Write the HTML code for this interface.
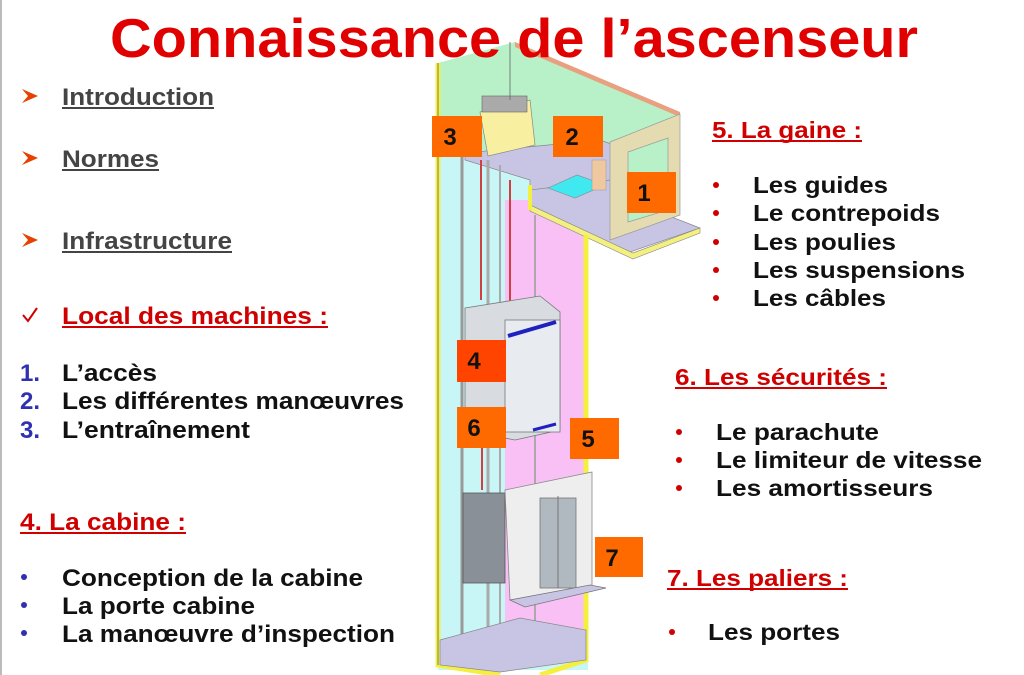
<!DOCTYPE html>
<html><head><meta charset="utf-8"><style>
html,body{margin:0;padding:0;background:#fff}
svg{display:block}
text{font-family:"Liberation Sans",Arial,sans-serif;font-weight:bold}
</style></head><body>
<svg width="1024" height="675" viewBox="0 0 1024 675" xmlns="http://www.w3.org/2000/svg">
<line x1="1" y1="0" x2="1" y2="675" stroke="#bbb" stroke-width="2"/>
<g>
<polygon points="438,63 515,42 680,114 680,215 438,215" fill="#b8f0c8"/>
<polygon points="515,42 680,112 680,117 515,47" fill="#e8a080"/>
<rect x="438" y="150" width="150" height="520" fill="#c8f6f6"/>
<rect x="505" y="200" width="80" height="460" fill="#f8c0f4"/>
<polygon points="530,185 585,200 585,660 530,640" fill="#f8c0f4"/>
<polygon points="465,153 600,140 628,150 628,235 610,240 530,205 530,180 465,160" fill="#c8c4e4" stroke="#888" stroke-width="0.7"/>
<polygon points="530,205 630,252 700,228 628,200 610,180 530,190" fill="#c8c4e4" stroke="#888" stroke-width="0.7"/>
<polygon points="530,205 633,253 700,228 700,233 633,259 530,211" fill="#f4f080" stroke="#888" stroke-width="0.6"/>
<polygon points="548,188 577,175 605,185 575,198" fill="#40e8f0" stroke="#888" stroke-width="0.6"/>
<polygon points="610,142 680,114 680,215 610,240" fill="#e4dcb0" stroke="#999" stroke-width="0.7"/>
<polygon points="628,152 668,138 668,210 628,222" fill="#b8f0c8" stroke="#999" stroke-width="0.7"/>
<rect x="592" y="160" width="14" height="30" fill="#f0c8a0" stroke="#999" stroke-width="0.5"/>
<polygon points="480,112 530,100 535,145 488,156" fill="#f8f0a0" stroke="#888" stroke-width="0.7"/>
<rect x="482" y="96" width="45" height="16" fill="#aaa" stroke="#666" stroke-width="0.6"/>
<line x1="510" y1="42" x2="510" y2="100" stroke="#666" stroke-width="0.8"/>
<path d="M438,63 L438,665 L500,675" fill="none" stroke="#f4f040" stroke-width="5"/>
<path d="M438,63 L438,665" fill="none" stroke="#777" stroke-width="1"/>
<path d="M586,235 L586,660 L540,675" fill="none" stroke="#f4f040" stroke-width="5"/>
<path d="M530,185 L530,210" fill="none" stroke="#f4f040" stroke-width="4"/>
<line x1="462" y1="155" x2="462" y2="640" stroke="#999" stroke-width="3"/>
<line x1="488" y1="160" x2="488" y2="650" stroke="#aaa" stroke-width="3"/>
<line x1="500" y1="165" x2="500" y2="640" stroke="#aaa" stroke-width="2"/>
<line x1="535" y1="215" x2="535" y2="640" stroke="#aaa" stroke-width="2"/>
<line x1="481" y1="160" x2="481" y2="300" stroke="#d04040" stroke-width="2"/>
<line x1="510" y1="180" x2="510" y2="305" stroke="#d04040" stroke-width="2"/>
<line x1="482" y1="440" x2="482" y2="490" stroke="#d04040" stroke-width="2"/>
<polygon points="465,308 540,296 560,312 560,430 515,440 465,430" fill="#d8dce0" stroke="#777" stroke-width="0.8"/>
<rect x="505" y="320" width="55" height="112" fill="#e8ecf0" stroke="#777" stroke-width="0.8"/>
<line x1="508" y1="336" x2="556" y2="322" stroke="#2020c0" stroke-width="4"/>
<line x1="533" y1="430" x2="556" y2="424" stroke="#2020c0" stroke-width="3"/>
<rect x="463" y="493" width="42" height="90" fill="#8a9098" stroke="#555" stroke-width="0.8"/>
<polygon points="505,490 592,472 592,585 510,600" fill="#eeeeee" stroke="#888" stroke-width="0.8"/>
<rect x="540" y="498" width="36" height="90" fill="#b0b8c0" stroke="#777" stroke-width="0.8"/>
<line x1="558" y1="496" x2="558" y2="588" stroke="#777"/>
<polygon points="510,600 590,585 606,588 525,607" fill="#c8c4e4" stroke="#777" stroke-width="0.8"/>
<polygon points="440,640 520,618 586,630 586,660 500,672 440,665" fill="#c8c4e4" stroke="#888" stroke-width="0.7"/>
</g>
<g font-size="24" text-anchor="middle">
<rect x="432" y="116" width="50" height="41" fill="#ff6a00"/><text x="450" y="145" fill="#111">3</text>
<rect x="553" y="116" width="50" height="41" fill="#ff6a00"/><text x="572" y="145" fill="#111">2</text>
<rect x="627" y="172" width="49" height="41" fill="#ff6a00"/><text x="644" y="201" fill="#111">1</text>
<rect x="457" y="340" width="49" height="42" fill="#ff4400"/><text x="474" y="369" fill="#111">4</text>
<rect x="457" y="407" width="49" height="41" fill="#ff6a00"/><text x="474" y="436" fill="#111">6</text>
<rect x="570" y="418" width="49" height="41" fill="#ff6a00"/><text x="588" y="447" fill="#111">5</text>
<rect x="595" y="537" width="48" height="40" fill="#ff6a00"/><text x="612" y="566" fill="#111">7</text>
</g>
<text x="110" y="57" font-size="55" fill="#e00000" textLength="808" lengthAdjust="spacingAndGlyphs">Connaissance de l’ascenseur</text>
<g font-size="24">
<g fill="#e84000"><path d="M22,89 L38,96 L22,103 L28,96Z"/><path d="M22,151 L38,158 L22,165 L28,158Z"/><path d="M22,233 L38,240 L22,247 L28,240Z"/></g>
<text x="62" y="105" fill="#444" textLength="152" lengthAdjust="spacingAndGlyphs">Introduction</text>
<rect x="62" y="107" width="152" height="2" fill="#444"/>
<text x="62" y="167" fill="#444" textLength="97" lengthAdjust="spacingAndGlyphs">Normes</text>
<rect x="62" y="169" width="97" height="2" fill="#444"/>
<text x="62" y="249" fill="#444" textLength="170" lengthAdjust="spacingAndGlyphs">Infrastructure</text>
<rect x="62" y="251" width="170" height="2" fill="#444"/>
<path d="M23,315 L28,321 L37,308" fill="none" stroke="#d00000" stroke-width="2"/>
<text x="62" y="324" fill="#d00000" textLength="266" lengthAdjust="spacingAndGlyphs">Local des machines :</text>
<rect x="62" y="326" width="266" height="2" fill="#d00000"/>
<g fill="#3030b0"><text x="20" y="381">1.</text><text x="20" y="409">2.</text><text x="20" y="438">3.</text></g>
<text x="62" y="381" fill="#111" textLength="95" lengthAdjust="spacingAndGlyphs">L’accès</text>
<text x="62" y="409" fill="#111" textLength="342" lengthAdjust="spacingAndGlyphs">Les différentes manœuvres</text>
<text x="62" y="438" fill="#111" textLength="188" lengthAdjust="spacingAndGlyphs">L’entraînement</text>
<text x="20" y="530" fill="#d00000" textLength="166" lengthAdjust="spacingAndGlyphs">4. La cabine :</text>
<rect x="20" y="532" width="166" height="2" fill="#d00000"/>
<g fill="#3030b0"><circle cx="24" cy="577" r="3"/><circle cx="24" cy="605" r="3"/><circle cx="24" cy="633" r="3"/></g>
<text x="62" y="586" fill="#111" textLength="301" lengthAdjust="spacingAndGlyphs">Conception de la cabine</text>
<text x="62" y="614" fill="#111" textLength="193" lengthAdjust="spacingAndGlyphs">La porte cabine</text>
<text x="62" y="642" fill="#111" textLength="333" lengthAdjust="spacingAndGlyphs">La manœuvre d’inspection</text>
</g>
<g font-size="23">
<text x="712" y="138" fill="#d00000" textLength="150" lengthAdjust="spacingAndGlyphs">5. La gaine :</text>
<rect x="712" y="140" width="150" height="2" fill="#d00000"/>
<g fill="#d00000"><circle cx="716" cy="185" r="3"/><circle cx="716" cy="213" r="3"/><circle cx="716" cy="242" r="3"/><circle cx="716" cy="270" r="3"/><circle cx="716" cy="298" r="3"/></g>
<text x="753" y="193" fill="#111" textLength="135" lengthAdjust="spacingAndGlyphs">Les guides</text>
<text x="753" y="221" fill="#111" textLength="187" lengthAdjust="spacingAndGlyphs">Le contrepoids</text>
<text x="753" y="250" fill="#111" textLength="143" lengthAdjust="spacingAndGlyphs">Les poulies</text>
<text x="753" y="278" fill="#111" textLength="212" lengthAdjust="spacingAndGlyphs">Les suspensions</text>
<text x="753" y="306" fill="#111" textLength="133" lengthAdjust="spacingAndGlyphs">Les câbles</text>
<text x="675" y="385" fill="#d00000" textLength="212" lengthAdjust="spacingAndGlyphs">6. Les sécurités :</text>
<rect x="675" y="387" width="212" height="2" fill="#d00000"/>
<g fill="#d00000"><circle cx="679" cy="432" r="3"/><circle cx="679" cy="460" r="3"/><circle cx="679" cy="488" r="3"/></g>
<text x="716" y="440" fill="#111" textLength="163" lengthAdjust="spacingAndGlyphs">Le parachute</text>
<text x="716" y="468" fill="#111" textLength="266" lengthAdjust="spacingAndGlyphs">Le limiteur de vitesse</text>
<text x="716" y="496" fill="#111" textLength="217" lengthAdjust="spacingAndGlyphs">Les amortisseurs</text>
<text x="667" y="586" fill="#d00000" textLength="181" lengthAdjust="spacingAndGlyphs">7. Les paliers :</text>
<rect x="667" y="588" width="181" height="2" fill="#d00000"/>
<circle cx="672" cy="632" r="3" fill="#d00000"/>
<text x="708" y="640" fill="#111" textLength="132" lengthAdjust="spacingAndGlyphs">Les portes</text>
</g>
</svg>
</body></html>
